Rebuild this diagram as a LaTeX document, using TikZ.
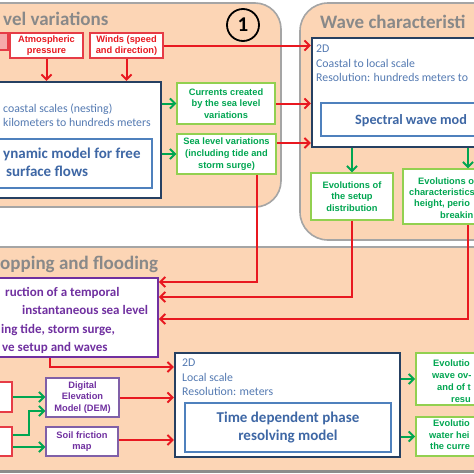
\documentclass[tikz,border=0pt]{standalone}
\usepackage{fontspec}
\setmainfont{Carlito}
\newfontfamily\arialfont{Liberation Sans}
\usetikzlibrary{arrows.meta}
\definecolor{peach}{RGB}{252,213,181}
\definecolor{pgray}{RGB}{165,165,165}
\definecolor{dgray}{RGB}{140,140,140}
\definecolor{tgray}{RGB}{137,137,137}
\definecolor{navy}{RGB}{38,64,98}
\definecolor{mblue}{RGB}{79,129,189}
\definecolor{tblue}{RGB}{84,122,178}
\definecolor{bblue}{RGB}{62,103,165}
\definecolor{myred}{RGB}{232,24,32}
\definecolor{boxred}{RGB}{230,60,70}
\definecolor{lpink}{RGB}{246,170,170}
\definecolor{mygreen}{RGB}{0,166,81}
\definecolor{lgreen}{RGB}{146,208,80}
\definecolor{purp}{RGB}{112,48,160}
\definecolor{lpurp}{RGB}{128,96,168}
\tikzset{
 panel/.style={fill=peach, draw=pgray, line width=1.6pt},
 paneltitle/.style={text=tgray, font=\fontsize{19}{22}\selectfont\bfseries, inner sep=0pt, anchor=base west},
 smallbox/.style={fill=white, line width=1.3pt, align=center, inner sep=0pt, font=\arialfont\bfseries\fontsize{9.3}{11.8}\selectfont},
 redbox/.style={smallbox, draw=boxred, text=myred},
 greenbox/.style={smallbox, draw=lgreen, text=mygreen},
 purpbox/.style={smallbox, draw=lpurp, text=purp},
 navybox/.style={fill=white, draw=navy, line width=2.2pt, inner sep=0pt},
 innerbox/.style={fill=white, draw=mblue, line width=1.6pt, inner sep=0pt, align=center, text=bblue, font=\fontsize{15}{18.3}\selectfont\bfseries},
 plaintext/.style={text=tblue, font=\fontsize{11.8}{14}\selectfont, inner sep=0pt, anchor=base west},
 bigbold/.style={text=bblue, font=\fontsize{15}{18}\selectfont\bfseries, inner sep=0pt, anchor=base west},
 purptext/.style={text=purp, font=\fontsize{13}{16}\selectfont\bfseries, inner sep=0pt, anchor=base west},
 greentext/.style={text=mygreen, inner sep=0pt, anchor=base west, font=\arialfont\bfseries\fontsize{9.3}{11.8}\selectfont},
 redarrow/.style={draw=myred, line width=2pt, -{Straight Barb[length=5pt,width=10pt]}},
 greenarrow/.style={draw=mygreen, line width=2pt, -{Straight Barb[length=5pt,width=10pt]}},
}
\begin{document}
\begin{tikzpicture}[x=1pt,y=-1pt]
\useasboundingbox (0,0) rectangle (474,474);
\clip (0,0) rectangle (474,474);
\fill[white] (0,0) rectangle (474,474);

% panels
\draw[panel, rounded corners=26pt] (-40,3) rectangle (281,207);
\draw[panel, rounded corners=28pt] (300,3) rectangle (540,240);
\fill[peach] (-10,247) rectangle (490,472);
\draw[pgray, line width=1.5pt] (-10,247) -- (490,247);
\draw[dgray, line width=3pt] (-10,471.5) -- (490,471.5);

% titles
\node[paneltitle] (t1) at (3,25) {vel variations};
\node[paneltitle] (t2) at (320,28) {Wave characteristi};
\node[paneltitle] (t3) at (0,269) {opping and flooding};
\node[circle, draw=black, fill=peach, line width=1.8pt, minimum size=32pt, inner sep=0pt, font=\fontsize{21}{24}\selectfont\bfseries] (one) at (243,25) {1};

% panel 1
\node[redbox, fill=lpink, minimum width=38pt, minimum height=17pt] (tide) at (-11,41.5) {};
\node[redbox, minimum width=73pt, minimum height=25pt] (atm) at (46.5,45.5) {Atmospheric\\pressure};
\node[redbox, minimum width=73pt, minimum height=25pt] (winds) at (126.5,45.5) {Winds (speed\\and direction)};
\node[navybox, minimum width=191pt, minimum height=116pt] (hydro) at (65.5,140) {};
\node[innerbox, minimum width=182pt, minimum height=49pt] (hydroin) at (61,163.5) {};
\node[plaintext] (h1) at (3,112.7) {coastal scales (nesting)};
\node[plaintext] (h2) at (3,126.7) {kilometers to hundreds meters};
\node[bigbold] (h3) at (3,158.3) {ynamic model for free};
\node[bigbold] (h4) at (6,176.7) {surface flows};
\node[greenbox, minimum width=98pt, minimum height=41pt] (curr) at (226,103.5) {Currents created\\by the sea level\\variations};
\node[greenbox, minimum width=99pt, minimum height=40pt] (sealev) at (226.5,154) {Sea level variations\\(including tide and\\storm surge)};

% panel 2
\node[navybox, minimum width=220pt, minimum height=109pt] (wave) at (422,92.5) {};
\node[innerbox, minimum width=200pt, minimum height=33pt] (wavein) at (421,119.5) {};
\node[plaintext] (w1) at (316,52.5) {2D};
\node[plaintext] (w2) at (316,67) {Coastal to local scale};
\node[plaintext] (w3) at (316,81.5) {Resolution: hundreds meters to};
\node[bigbold, font=\fontsize{14.2}{17}\selectfont\bfseries] (w4) at (355,124.5) {Spectral wave mod};
\node[greenbox, minimum width=82pt, minimum height=47pt] (setup) at (352,196.5) {Evolutions of\\the setup\\distribution};
\node[greenbox, minimum width=130pt, minimum height=55pt] (evolw) at (468,196.5) {};
\node[greentext] (e1) at (418,184.3) {Evolutions o};
\node[greentext] (e2) at (409,195.7) {characteristics};
\node[greentext] (e3) at (414,206.7) {height, perio};
\node[greentext] (e4) at (440,218.3) {breakin};

% panel 3
\node[fill=white, draw=purp, line width=1.8pt, minimum width=190pt, minimum height=79pt, inner sep=0pt] (recon) at (63,317.5) {};
\node[purptext] (r1) at (5,296) {ruction of a temporal};
\node[purptext] (r2) at (22,314.5) {instantaneous sea level};
\node[purptext] (r3) at (1,333) {ing tide, storm surge,};
\node[purptext] (r4) at (2,351.5) {ve setup and waves};
\node[navybox, minimum width=225pt, minimum height=104pt] (timebox) at (287.5,405) {};
\node[innerbox, minimum width=206pt, minimum height=49pt] (timein) at (288,427.5) {Time dependent phase\\resolving model};
\node[plaintext] (m1) at (182,366.5) {2D};
\node[plaintext] (m2) at (182,381) {Local scale};
\node[plaintext] (m3) at (182,395) {Resolution: meters};
\node[redbox, minimum width=42pt, minimum height=30pt] (la) at (-9,397) {};
\node[redbox, minimum width=42pt, minimum height=29pt] (lb) at (-9,441.5) {};
\node[purpbox, minimum width=73pt, minimum height=39pt] (dem) at (82.5,397.5) {Digital\\Elevation\\Model (DEM)};
\node[purpbox, minimum width=72pt, minimum height=29pt] (soil) at (82,441.5) {Soil friction\\map};
\node[greenbox, line width=1.8pt, minimum width=114pt, minimum height=52pt] (ev1) at (473,379) {};
\node[greenbox, line width=1.8pt, minimum width=114pt, minimum height=39pt] (ev2) at (473,436.5) {};
\node[greentext] (v1) at (433,366) {Evolutio};
\node[greentext] (v2) at (432,378.5) {wave ov-};
\node[greentext] (v3) at (437,390.5) {and of t};
\node[greentext] (v4) at (451,402) {resu};
\node[greentext] (v5) at (433,426) {Evolutio};
\node[greentext] (v6) at (429,438.3) {water hei};
\node[greentext] (v7) at (430,449.3) {the curre};

% connectors panel 1
\draw[redarrow] (atm.south) -- (atm.south |- hydro.north);
\draw[redarrow] (winds.south) -- (winds.south |- hydro.north);
\draw[redarrow] (winds.east) -- (winds.east -| wave.west);
\draw[greenarrow] (curr.west -| hydro.east) -- (curr.west);
\draw[greenarrow] (sealev.west -| hydro.east) -- (sealev.west);
\draw[redarrow] (curr.east) -- (curr.east -| wave.west);
\coordinate (slo) at ([yshift=11pt]sealev.east);
\draw[redarrow] (slo) -- (slo -| wave.west);

% connectors panel 2
\draw[greenarrow] (setup.north |- wave.south) -- (setup.north);
\draw[greenarrow] (evolw.north |- wave.south) -- (evolw.north);

% down to reconstruction
\draw[redarrow] ([xshift=-20pt]sealev.south east) |- ([yshift=35.5pt]recon.east);
\draw[redarrow] (setup.south) |- ([yshift=20.5pt]recon.east);
\draw[redarrow] (evolw.south) |- ([yshift=-1.5pt]recon.east);

% panel 3 connectors
\draw[redarrow] ([xshift=-13pt]recon.south) |- ([yshift=38pt]timebox.west);
\draw[redarrow] (dem.east) -- (dem.east -| timebox.west);
\draw[redarrow] ([yshift=1.5pt]soil.east) -- ([yshift=1.5pt]soil.east -| timebox.west);
\draw[greenarrow] (la.east) -- (la.east -| dem.west);
\draw[greenarrow] ([yshift=6.5pt]lb.east) -- ++(16,0) |- ([yshift=-13.5pt]dem.west);
\draw[greenarrow] ([yshift=-5.5pt]lb.east) -- ([yshift=-5.5pt]soil.west);
\draw[greenarrow] (ev1.west -| timebox.east) -- (ev1.west);
\draw[greenarrow] (ev2.west -| timebox.east) -- (ev2.west);
\end{tikzpicture}
\end{document}
